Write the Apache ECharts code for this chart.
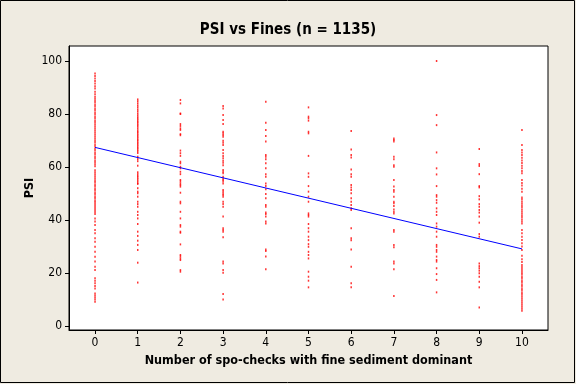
<!DOCTYPE html>
<html>
<head>
<meta charset="utf-8">
<script src="https://cdn.jsdelivr.net/npm/echarts@6/dist/echarts.min.js"></script>
<style>
html,body{margin:0;padding:0;background:#EFEBE1;}
#c{width:576px;height:384px;}
</style>
</head>
<body>
<div id="c"></div>
<script>
// Number of spot-checks with fine sediment dominant (x categories)
var finesValues = [0, 1, 2, 3, 4, 5, 6, 7, 8, 9, 10];
var xTicks = [0, 1, 2, 3, 4, 5, 6, 7, 8, 9, 10];
var yTicks = [0, 20, 40, 60, 80, 100];

// PSI values read per column
var psi0 = [95.3, 94.3, 93.4, 92.5, 91.5, 90.5, 89.6, 88.4, 87.5, 86.5,
  85.8, 85.0, 84.3, 83.5, 82.8, 82.0, 81.3, 80.5, 79.8, 79.0, 78.3, 77.5, 76.8, 76.0, 75.3, 74.5, 73.8, 73.0, 72.3, 71.5,
  70.8, 70.0, 69.3, 68.5, 67.8, 67.0, 66.3, 65.5, 64.8, 64.0, 63.3, 62.5, 61.8, 61.0, 60.3,
  58.8, 58.0, 57.3, 56.5, 55.8, 55.0, 54.3, 53.5, 52.8, 52.0, 51.3, 50.5, 49.8, 49.0, 48.3, 47.5, 46.8, 46.0, 45.3, 44.5, 43.8, 43.0, 42.3,
  40.6, 39.4, 38.1, 36.2, 35.0, 33.1, 31.8, 29.9, 28.0, 26.1, 24.3, 22.4, 21.1,
  18.0, 17.1, 16.1, 15.1, 14.2, 12.3, 11.5, 10.8, 10.0, 9.2];
var psi1 = [85.5, 84.8, 84.0, 83.2, 82.5, 81.7, 81.0, 80.2, 79.5, 78.8, 78.2, 77.6, 77.0, 76.4, 75.8, 75.2, 74.5, 73.8, 73.2, 72.6,
  72.0, 71.4, 70.8, 70.2, 69.6, 69.0, 68.4, 67.8, 67.2, 66.6, 66.0, 65.3, 63.9, 63.0, 62.2, 60.5, 58.0, 57.3, 56.6, 56.0,
  55.4, 54.7, 54.0, 53.6, 52.0, 50.7, 50.1, 48.8, 46.9, 46.0, 45.0, 43.1, 41.9, 40.6, 38.5, 35.6, 34.0, 32.2, 30.6, 28.7, 23.9, 16.4];
var psi2 = [85.3, 84.0, 80.2, 80.0, 76.2, 75.5, 74.6, 74.0, 72.4, 72.0, 66.2, 65.2, 64.2, 62.0, 61.4, 60.1, 59.5, 58.2, 57.3,
  55.1, 54.5, 53.8, 53.2, 52.6, 50.3, 46.9, 46.3, 43.1, 40.6, 38.1, 37.5, 35.6, 35.2, 30.8, 26.8, 26.2, 25.5, 24.9, 21.1, 20.5];
var psi3 = [83.0, 82.1, 79.6, 77.7, 76.2, 73.3, 72.7, 72.1, 71.4, 69.9, 69.2, 68.3, 66.4, 65.2, 64.2, 63.3, 62.4, 61.6, 60.7,
  58.9, 58.2, 57.6, 56.3, 55.7, 55.1, 54.5, 53.8, 51.3, 50.7, 50.0, 49.4, 48.8, 46.9, 46.0, 45.0, 41.3, 36.9, 36.2, 35.6, 33.5,
  24.3, 23.6, 21.1, 20.1, 12.1, 10.0];
var psi4 = [84.6, 76.7, 74.0, 71.7, 69.6, 64.5, 63.9, 62.9, 61.4, 59.5, 57.3, 56.3, 53.8, 52.8, 51.6, 49.8, 48.2, 45.7, 45.0,
  42.8, 42.3, 41.3, 39.4, 38.7, 28.9, 28.3, 26.2, 21.4];
var psi5 = [82.5, 79.0, 78.4, 77.5, 73.3, 72.7, 64.2, 57.6, 56.3, 52.8, 50.7, 48.8, 46.9, 42.5, 41.9, 41.3, 38.5, 36.9, 35.6,
  33.7, 32.4, 30.9, 29.9, 28.0, 26.8, 25.5, 20.5, 18.6, 17.1, 14.6];
var psi6 = [73.6, 66.6, 64.5, 63.6, 59.1, 57.3, 56.3, 53.2, 52.3, 51.3, 50.1, 48.2, 46.9, 45.7, 44.4, 43.8, 36.9, 33.1, 32.4,
  28.9, 22.4, 16.1, 14.6];
var psi7 = [70.8, 70.2, 69.6, 63.9, 62.9, 60.7, 60.1, 55.1, 52.6, 51.3, 50.7, 48.8, 46.9, 46.3, 45.3, 44.0, 43.1, 42.5, 36.2,
  35.6, 30.6, 29.7, 24.3, 23.6, 21.4, 11.3];
var psi8 = [100.0, 79.6, 75.8, 65.5, 59.5, 57.2, 52.8, 49.4, 48.8, 47.5, 46.5, 44.4, 43.1, 41.9, 38.7, 37.5, 35.6, 33.7, 30.6,
  29.9, 28.7, 28.0, 26.2, 24.9, 24.3, 21.8, 19.6, 17.4, 12.7];
var psi9 = [66.8, 61.1, 60.4, 57.3, 52.8, 52.3, 49.0, 47.8, 46.0, 45.0, 43.8, 42.8, 41.3, 39.0, 34.7, 33.7, 23.6, 22.6, 21.8,
  20.9, 19.9, 18.6, 16.7, 14.6, 7.0];
var psi10 = [74.0, 68.3, 66.4, 65.5, 64.5, 63.5, 62.5, 61.5, 60.5, 59.5, 58.5, 57.6, 55.1, 54.0, 53.0, 51.8, 50.7,
  48.5, 47.8, 47.0, 46.2, 45.5, 44.8, 44.0, 43.2, 42.5, 41.7, 41.0, 40.2, 39.4, 38.7, 36.2, 35.0, 33.7, 32.5, 31.2, 30.0, 28.7,
  26.5, 25.2, 24.2, 23.0, 22.3, 21.5, 20.8, 20.0, 19.3, 18.5, 17.8, 17.0, 16.3, 15.5, 14.8, 14.0, 13.3, 12.5, 11.8, 11.0,
  10.3, 9.5, 8.8, 8.0, 7.3, 6.5, 5.8];

// Fitted regression line end points
var fitX = [0, 10];
var fitY = [67.4, 29.1];

var columns = [psi0, psi1, psi2, psi3, psi4, psi5, psi6, psi7, psi8, psi9, psi10];
var scatterData = [];
columns.forEach(function (col, i) {
  col.forEach(function (v) { scatterData.push([finesValues[i], v]); });
});
var fitData = fitX.map(function (x, i) { return [x, fitY[i]]; });

var FONT = '"DejaVu Sans Condensed", "DejaVu Sans", sans-serif';
var chart = echarts.init(document.getElementById('c'), null, {renderer: 'canvas'});
chart.setOption({
  backgroundColor: '#EFEBE1',
  animation: false,
  title: {
    text: 'PSI vs Fines (n = 1135)',
    left: 'center', top: 18,
    textStyle: {fontFamily: FONT, fontWeight: 'bold', fontSize: 15, color: '#000'}
  },
  graphic: [{
    type: 'rect', silent: true, z: 100,
    shape: {x: 0.5, y: 0.5, width: 574, height: 382},
    style: {fill: null, stroke: '#000', lineWidth: 1}
  }],
  grid: {
    left: 69, right: 28, top: 46, bottom: 54,
    show: true, backgroundColor: '#FFFFFF', borderColor: '#000', borderWidth: 1
  },
  xAxis: {
    type: 'value', min: -0.61, max: 10.61,
    name: 'Number of spo-checks with fine sediment dominant',
    nameLocation: 'middle', nameGap: 24, nameMoveOverlap: false,
    nameTextStyle: {fontFamily: FONT, fontWeight: 'bold', fontSize: 12.5, color: '#000'},
    axisLine: {show: true, onZero: false, lineStyle: {color: '#000', width: 1}},
    axisTick: {show: true, length: 4, lineStyle: {color: '#000'}, customValues: xTicks},
    axisLabel: {fontFamily: FONT, fontSize: 12, color: '#000', margin: 7, customValues: xTicks},
    splitLine: {show: false}
  },
  yAxis: {
    type: 'value', min: -1.5, max: 105.66,
    name: 'PSI', nameLocation: 'middle', nameGap: 33, nameRotate: 90, nameMoveOverlap: false,
    nameTextStyle: {fontFamily: FONT, fontWeight: 'bold', fontSize: 12.5, color: '#000'},
    axisLine: {show: true, onZero: false, lineStyle: {color: '#000', width: 1}},
    axisTick: {show: true, length: 4, lineStyle: {color: '#000'}, customValues: yTicks},
    axisLabel: {fontFamily: FONT, fontSize: 12, color: '#000', margin: 7, customValues: yTicks},
    splitLine: {show: false}
  },
  series: [{
    type: 'scatter',
    data: scatterData,
    symbol: 'rect',
    symbolSize: [1.5, 2],
    itemStyle: {color: '#FF0000'},
    silent: true
  }, {
    type: 'line',
    data: fitData,
    symbol: 'none',
    lineStyle: {color: '#0000FF', width: 1},
    silent: true,
    z: 3
  }]
});
</script>
</body>
</html>
